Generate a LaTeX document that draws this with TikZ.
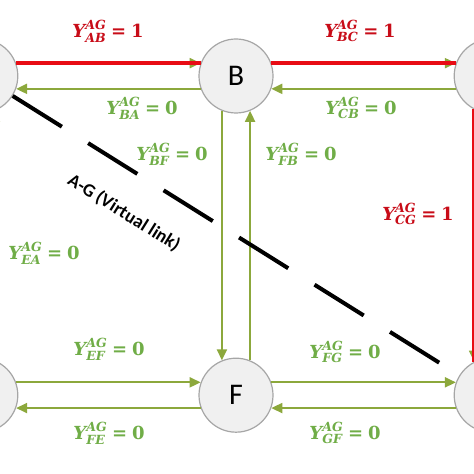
\documentclass[tikz,border=0pt]{standalone}
\usepackage{amsmath,amssymb}
\usepackage{fontspec}
\newfontfamily\carlito{Carlito}
\newfontfamily\yfont{DejaVu Serif}
\usepackage{xcolor}
\usetikzlibrary{arrows.meta,positioning}
\definecolor{linkgreen}{RGB}{140,168,60}
\definecolor{labgreen}{RGB}{112,173,71}
\definecolor{linkred}{RGB}{232,12,20}
\definecolor{labred}{RGB}{200,12,24}
\definecolor{cityfill}{RGB}{240,240,240}
\definecolor{cityline}{RGB}{166,166,166}
\newcommand{\ylet}{\yfont\bfseries\itshape}
\newcommand{\ynum}{\yfont\bfseries}
\newcommand{\yvar}[2]{$\text{\ylet Y}^{\text{\ylet AG}}_{\text{\ylet #1}}\mathrel{\text{\ynum =}}\text{\ynum #2}$}

\begin{document}
\begin{tikzpicture}[x=1pt,y=1pt,node distance=244pt and 180pt,>={Triangle[length=11pt,width=10pt]}]
  \tikzstyle{city}=[circle,draw=cityline,line width=1.2pt,fill=cityfill,minimum size=74pt,inner sep=0pt,font=\carlito\fontsize{30}{30}\selectfont]
  \tikzstyle{arc}=[->,draw=linkgreen,line width=2pt]
  \tikzstyle{used}=[draw=linkred,line width=3.5pt]
  \tikzstyle{vlink}=[draw=black,line width=4pt,dash pattern=on 58pt off 31pt]
  \tikzstyle{lab}=[font=\fontsize{18}{22}\selectfont,text=labgreen]
  \tikzstyle{labused}=[lab,text=labred]
  \useasboundingbox (0,0) rectangle (474,474);
  % nodes
  \node[city] (B) at (236,398) {B};
  \node[city,left=of B] (A) {A};
  \node[city,right=of B] (C) {C};
  \node[city,below=of B] (F) {F};
  \node[city,left=of F] (E) {E};
  \node[city,right=of F] (G) {G};
  % links
  \draw[arc] (A.20) -- (B.160);
  \draw[used] (A.20) -- (B.160);
  \draw[arc] (B.200) -- (A.340);
  \draw[arc] (B.20) -- (C.160);
  \draw[used] (B.20) -- (C.160);
  \draw[arc] (C.200) -- (B.340);
  \draw[arc] (B.248) -- (F.112);
  \draw[arc] (F.68) -- (B.292);
  \draw[arc] (C.243) -- (G.117);
  \draw[used] (C.243) -- (G.117);
  \draw[arc] (E.68) -- (A.292);
  \draw[arc] (E.20) -- (F.160);
  \draw[arc] (F.200) -- (E.340);
  \draw[arc] (F.20) -- (G.160);
  \draw[arc] (G.200) -- (F.340);
  % virtual link
  \draw[vlink] (A) -- (G);
  \node[font=\carlito\bfseries\fontsize{18.5}{22}\selectfont,rotate=-32] (vl) at (124,261) {A-G (Virtual link)};
  % labels
  \node[labused] (lAB) at (108,443) {\yvar{AB}{1}};
  \node[labused] (lBC) at (360,443) {\yvar{BC}{1}};
  \node[lab] (lBA) at (142,366) {\yvar{BA}{0}};
  \node[lab] (lCB) at (361,366) {\yvar{CB}{0}};
  \node[lab] (lBF) at (172,320) {\yvar{BF}{0}};
  \node[lab] (lFB) at (301,320) {\yvar{FB}{0}};
  \node[labused] (lCG) at (418,260) {\yvar{CG}{1}};
  \node[lab] (lEA) at (44,221) {\yvar{EA}{0}};
  \node[lab] (lEF) at (109,125) {\yvar{EF}{0}};
  \node[lab] (lFE) at (109,41) {\yvar{FE}{0}};
  \node[lab] (lFG) at (345,122) {\yvar{FG}{0}};
  \node[lab] (lGF) at (345,41) {\yvar{GF}{0}};
\end{tikzpicture}
\end{document}
